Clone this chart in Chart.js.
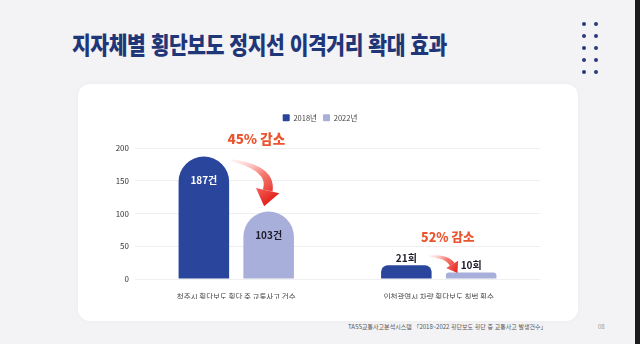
<!DOCTYPE html>
<html lang="ko">
<head>
<meta charset="utf-8">
<script src="https://cdn.jsdelivr.net/npm/chart.js@4.4.1/dist/chart.umd.min.js"></script>
<style>
  html, body { margin: 0; padding: 0; }
  body {
    width: 640px; height: 344px; overflow: hidden; position: relative;
    background: #f3f2f4;
    font-family: "Noto Sans CJK KR", "Noto Sans", sans-serif;
  }
  .card {
    position: absolute; left: 78px; top: 84px; width: 500px; height: 237px;
    background: #ffffff; border-radius: 12px;
    box-shadow: 0 0 6px rgba(0, 0, 0, 0.03);
  }
  .title {
    position: absolute; left: 72px; top: 26px; white-space: nowrap;
    font-size: 24px; font-weight: 900; color: #1f3679;
    transform: scaleX(0.85); transform-origin: left top;
    letter-spacing: -0.5px;
  }
  .dots { position: absolute; left: 582px; top: 22px; width: 16px; }
  .dots span {
    display: block; float: left; width: 4px; height: 4px; border-radius: 50%;
    background: #2b3a78; margin: 0 8px 8px 0;
  }
  .dots span:nth-child(2n) { margin-right: 0; }
  .src {
    position: absolute; left: 348px; top: 322px; white-space: nowrap;
    font-size: 6px; color: #555;
  }
  .page { position: absolute; left: 598px; top: 322px; font-size: 6px; color: #9a9a9a; }
  .strip { position: absolute; right: 0; top: 0; width: 5px; height: 344px; background: #1c1c1c; }
  #chart { position: absolute; left: 0; top: 0; }
</style>
</head>
<body>
<div class="card"></div>
<div class="title">지자체별 횡단보도 정지선 이격거리 확대 효과</div>
<div class="dots"><span></span><span></span><span></span><span></span><span></span><span></span><span></span><span></span><span></span><span></span></div>
<div class="src">TASS교통사고분석시스템 「2018~2022 횡단보도 횡단 중 교통사고 발생건수」</div>
<div class="page">08</div>
<div class="strip"></div>
<canvas id="chart" width="640" height="344"></canvas>

<script>
// 데이터
const categories = ["청주시 횡단보도 횡단 중 교통사고 건수", "인천광역시 차량 횡단보도 침범 횟수"];
const seriesNames = ["2018년", "2022년"];
const values2018 = [187, 21];
const values2022 = [103, 10];
const units = ["건", "회"];
const changeLabels = ["45% 감소", "52% 감소"];
const yTicks = [0, 50, 100, 150, 200];

const colors = ["#2a469c", "#a8afda"];
const FONT = "'Noto Sans CJK KR', 'Noto Sans', sans-serif";

// 화살표/라벨 위치 (막대 기준 오프셋)
const arrows = [
  { sx: 28.5, sy: 4, cx: 4, cy: 12, ex: -1, ey: -21, w0: 2.5, w1: 10, head: 16, headW: 24, labelDx: 20, labelDy: -18, fontSize: 13.5 },
  { sx: 23, sy: -9, cx: -24, cy: -9, ex: -19, ey: -8, w0: 2, w1: 5.5, head: 10, headW: 14, labelDx: 9, labelDy: -28, fontSize: 12.5 },
];

function quad(p0, p1, p2, t) {
  const u = 1 - t;
  return {
    x: u * u * p0.x + 2 * u * t * p1.x + t * t * p2.x,
    y: u * u * p0.y + 2 * u * t * p1.y + t * t * p2.y,
  };
}

function drawArrow(ctx, p0, p1, p2, a) {
  const tipDir = { x: p2.x - p1.x, y: p2.y - p1.y };
  const len = Math.hypot(tipDir.x, tipDir.y);
  tipDir.x /= len; tipDir.y /= len;
  const tip = { x: p2.x + tipDir.x * a.head, y: p2.y + tipDir.y * a.head };

  const grad = ctx.createLinearGradient(p0.x, p0.y, tip.x, tip.y);
  grad.addColorStop(0, "rgba(255,215,215,0.3)");
  grad.addColorStop(0.5, "rgba(244,110,100,0.9)");
  grad.addColorStop(1, "#e5201a");

  const left = [], right = [];
  const N = 24;
  for (let i = 0; i <= N; i++) {
    const t = i / N;
    const p = quad(p0, p1, p2, t);
    const q = quad(p0, p1, p2, Math.min(1, t + 0.01));
    const r = quad(p0, p1, p2, Math.max(0, t - 0.01));
    let dx = q.x - r.x, dy = q.y - r.y;
    const l = Math.hypot(dx, dy) || 1;
    dx /= l; dy /= l;
    const w = (a.w0 + (a.w1 - a.w0) * t) / 2;
    left.push({ x: p.x - dy * w, y: p.y + dx * w });
    right.push({ x: p.x + dy * w, y: p.y - dx * w });
  }
  ctx.save();
  ctx.fillStyle = grad;
  ctx.beginPath();
  left.forEach((p, i) => (i ? ctx.lineTo(p.x, p.y) : ctx.moveTo(p.x, p.y)));
  for (let i = right.length - 1; i >= 0; i--) ctx.lineTo(right[i].x, right[i].y);
  ctx.closePath();
  ctx.fill();

  // 화살촉
  const hw = a.headW / 2;
  ctx.beginPath();
  ctx.moveTo(p2.x - tipDir.y * hw, p2.y + tipDir.x * hw);
  ctx.lineTo(tip.x, tip.y);
  ctx.lineTo(p2.x + tipDir.y * hw, p2.y - tipDir.x * hw);
  ctx.closePath();
  ctx.fill();
  ctx.restore();
}

const annotatePlugin = {
  id: "annotate",
  afterDatasetsDraw(chart) {
    const ctx = chart.ctx;
    const metaA = chart.getDatasetMeta(0);
    const metaB = chart.getDatasetMeta(1);

    // 값 라벨
    [metaA, metaB].forEach((meta, di) => {
      meta.data.forEach((bar, i) => {
        const v = chart.data.datasets[di].data[i];
        const inside = v >= 50;
        ctx.save();
        ctx.font = "bold 10px " + FONT;
        ctx.textAlign = "center";
        ctx.textBaseline = "middle";
        ctx.fillStyle = inside && di === 0 ? "#ffffff" : "#1d1d2b";
        ctx.fillText(v + units[i], bar.x, inside ? bar.y + 24 : bar.y - 7);
        ctx.restore();
      });
    });

    // 감소 화살표와 문구
    categories.forEach((c, i) => {
      const A = metaA.data[i], B = metaB.data[i], a = arrows[i];
      const p0 = { x: A.x + a.sx, y: A.y + a.sy };
      const p1 = { x: B.x + a.cx, y: A.y + a.cy };
      const p2 = { x: B.x + a.ex, y: B.y + a.ey };
      drawArrow(ctx, p0, p1, p2, a);

      ctx.save();
      ctx.font = "900 " + a.fontSize + "px " + FONT;
      ctx.textAlign = "center";
      ctx.textBaseline = "middle";
      ctx.fillStyle = "#ea5530";
      ctx.fillText(changeLabels[i], (A.x + B.x) / 2 + a.labelDx, A.y + a.labelDy);
      ctx.restore();
    });
  },
};

const legendSpace = {
  id: "legendSpace",
  beforeInit(chart) {
    const fit = chart.legend.fit;
    chart.legend.fit = function () {
      fit.bind(chart.legend)();
      this.height = 40;
    };
  },
};

Chart.defaults.font.family = FONT;

new Chart(document.getElementById("chart"), {
  type: "bar",
  data: {
    labels: categories,
    datasets: [
      {
        label: seriesNames[0],
        data: values2018,
        backgroundColor: colors[0],
        borderRadius: { topLeft: 40, topRight: 40, bottomLeft: 0, bottomRight: 0 },
        borderSkipped: false,
        categoryPercentage: 0.64,
        barPercentage: 0.78,
      },
      {
        label: seriesNames[1],
        data: values2022,
        backgroundColor: colors[1],
        borderRadius: { topLeft: 40, topRight: 40, bottomLeft: 0, bottomRight: 0 },
        borderSkipped: false,
        categoryPercentage: 0.64,
        barPercentage: 0.78,
      },
    ],
  },
  options: {
    responsive: false,
    animation: false,
    devicePixelRatio: 1,
    layout: { padding: { left: 100, right: 100, top: 108, bottom: 45 } },
    plugins: {
      legend: {
        position: "top",
        labels: {
          boxWidth: 7,
          boxHeight: 7,
          padding: 6,
          color: "#444",
          font: { size: 7.5 },
          useBorderRadius: true,
          borderRadius: 1,
        },
      },
      tooltip: { enabled: false },
    },
    scales: {
      x: {
        grid: { display: false },
        border: { display: false },
        ticks: { color: "#444", font: { size: 7.5 }, padding: 6, autoSkip: false, maxRotation: 0 },
        afterFit(scale) { scale.height = 20; },
      },
      y: {
        min: yTicks[0],
        max: yTicks[yTicks.length - 1],
        afterBuildTicks(scale) { scale.ticks = yTicks.map((v) => ({ value: v })); },
        grid: { color: "#efefef", drawTicks: false },
        border: { display: false },
        ticks: { color: "#333", font: { size: 8 }, padding: 6 },
        afterFit(scale) { scale.width = 35; },
      },
    },
  },
  plugins: [annotatePlugin, legendSpace],
});
</script>
</body>
</html>
